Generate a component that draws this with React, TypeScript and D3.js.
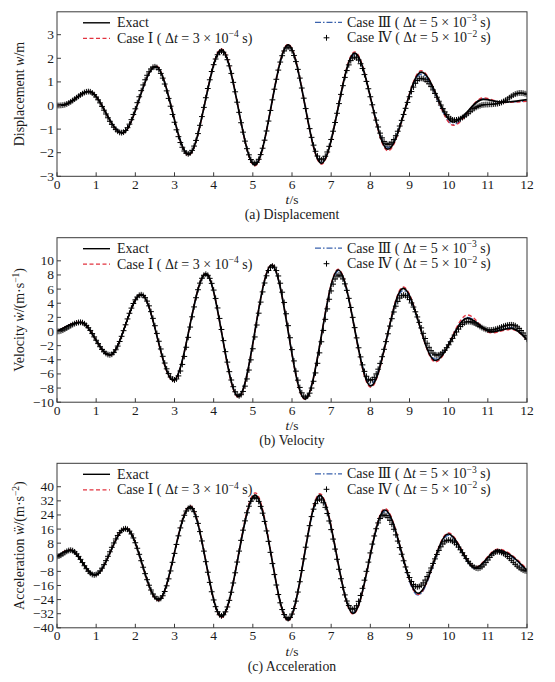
import * as d3 from 'd3'

// sampling step of the Case IV markers (s)
const case4Step = 0.05

// ---------- (a) displacement ----------
const dispKeyT = [0, 0.2, 0.4, 0.6, 0.81, 1.67, 2.52, 3.36, 4.2, 5.05, 5.9, 6.75, 7.6, 8.45, 9.3, 10.12, 10.88, 11.38, 12]
const dispExact = [0, 0.035, 0.21, 0.45, 0.6, -1.17, 1.66, -2.08, 2.36, -2.52, 2.57, -2.45, 2.22, -1.85, 1.41, -0.7, 0.26, 0.14, 0.25]
const dispCase1 = [0, 0.035, 0.21, 0.45, 0.6, -1.18, 1.68, -2.1, 2.4, -2.55, 2.6, -2.48, 2.27, -1.92, 1.47, -0.84, 0.32, 0.13, 0.18]
const dispCase3 = [0, 0.035, 0.21, 0.45, 0.6, -1.16, 1.65, -2.07, 2.34, -2.5, 2.54, -2.41, 2.16, -1.78, 1.33, -0.8, 0.28, 0.13, 0.2]
const dispCase4 = [
  0, 0, 0.005, 0.015, 0.035, 0.065, 0.105, 0.155, 0.21, 0.27, 0.33, 0.39, 0.45, 0.5, 0.55, 0.58, 0.59,
  0.58, 0.53, 0.46, 0.36, 0.24, 0.11, -0.04, -0.2, -0.36, -0.52, -0.67, -0.8, -0.92, -1.02, -1.09, -1.14, -1.15,
  -1.13, -1.06, -0.94, -0.79, -0.6, -0.38, -0.14, 0.12, 0.37, 0.63, 0.87, 1.09, 1.28, 1.43, 1.55, 1.62, 1.64,
  1.61, 1.52, 1.36, 1.16, 0.91, 0.62, 0.3, -0.03, -0.38, -0.71, -1.03, -1.32, -1.57, -1.77, -1.93, -2.02, -2.05,
  -2.01, -1.9, -1.72, -1.48, -1.19, -0.84, -0.47, -0.08, 0.33, 0.72, 1.09, 1.44, 1.73, 1.97, 2.15, 2.26, 2.3,
  2.26, 2.14, 1.94, 1.68, 1.36, 0.98, 0.58, 0.14, -0.29, -0.73, -1.13, -1.51, -1.83, -2.09, -2.29, -2.41, -2.45,
  -2.41, -2.28, -2.08, -1.81, -1.47, -1.08, -0.66, -0.21, 0.24, 0.69, 1.11, 1.5, 1.84, 2.11, 2.31, 2.44, 2.48,
  2.44, 2.32, 2.12, 1.86, 1.53, 1.16, 0.74, 0.31, -0.13, -0.56, -0.98, -1.35, -1.68, -1.94, -2.14, -2.26, -2.3,
  -2.26, -2.15, -1.97, -1.73, -1.44, -1.09, -0.72, -0.33, 0.08, 0.47, 0.84, 1.19, 1.48, 1.72, 1.9, 2.01, 2.05,
  2.02, 1.93, 1.77, 1.57, 1.31, 1.02, 0.71, 0.37, 0.03, -0.31, -0.62, -0.91, -1.17, -1.37, -1.53, -1.62, -1.65,
  -1.63, -1.56, -1.44, -1.28, -1.09, -0.87, -0.63, -0.38, -0.12, 0.13, 0.37, 0.59, 0.78, 0.94, 1.06, 1.13, 1.15,
  1.13, 1.09, 1.02, 0.92, 0.8, 0.66, 0.51, 0.35, 0.18, 0.02, -0.13, -0.27, -0.39, -0.49, -0.56, -0.61, -0.62,
  -0.61, -0.59, -0.56, -0.51, -0.46, -0.4, -0.33, -0.26, -0.19, -0.13, -0.08, -0.04, -0.01, 0.02, 0.03,
  0.04, 0.04, 0.05, 0.05, 0.06, 0.07, 0.08, 0.1,
  0.13, 0.17, 0.22, 0.27, 0.33, 0.39, 0.44, 0.48, 0.51, 0.53, 0.53, 0.52, 0.5, 0.47,
]
const dispTicks = [-3, -2, -1, 0, 1, 2, 3]

// ---------- (b) velocity ----------
const velKeyT = [0, 0.6, 1.35, 2.15, 2.97, 3.8, 4.63, 5.48, 6.33, 7.18, 8.01, 8.84, 9.66, 10.48, 11.08, 11.6, 12]
const velExact = [0, 1.3, -3.34, 5.25, -6.9, 8.15, -9.2, 9.4, -9.55, 8.7, -7.7, 6.1, -4.1, 1.9, -0.05, 0.45, -1.15]
const velCase1 = [0, 1.32, -3.36, 5.28, -6.95, 8.2, -9.3, 9.45, -9.6, 8.8, -7.9, 6.3, -4.3, 2.35, -0.2, 0.3, -1.15]
const velCase3 = [0, 1.3, -3.3, 5.2, -6.85, 8.1, -9.15, 9.3, -9.4, 8.5, -7.4, 5.8, -3.9, 2.0, 0, 0.55, -1.2]
const velCase4 = [
  0, 0.02, 0.09, 0.19, 0.33, 0.48, 0.65, 0.82, 0.98, 1.11, 1.21, 1.28, 1.3,
  1.25, 1.1, 0.86, 0.54, 0.15, -0.29, -0.76, -1.24, -1.71, -2.15, -2.54, -2.86, -3.1, -3.25, -3.3,
  -3.22, -2.98, -2.58, -2.06, -1.41, -0.68, 0.12, 0.95, 1.78, 2.58, 3.31, 3.96, 4.48, 4.88, 5.12, 5.2,
  5.1, 4.79, 4.3, 3.63, 2.81, 1.86, 0.82, -0.27, -1.38, -2.47, -3.51, -4.46, -5.28, -5.95, -6.44, -6.75, -6.85,
  -6.71, -6.28, -5.59, -4.66, -3.53, -2.23, -0.83, 0.63, 2.08, 3.48, 4.78, 5.91, 6.84, 7.53, 7.96, 8.1,
  7.95, 7.52, 6.81, 5.86, 4.68, 3.33, 1.85, 0.29, -1.29, -2.85, -4.33, -5.68, -6.86, -7.81, -8.52, -8.95, -9.1,
  -8.94, -8.48, -7.73, -6.71, -5.45, -4.01, -2.44, -0.77, 0.92, 2.59, 4.16, 5.6, 6.86, 7.88, 8.63, 9.09, 9.25,
  9.09, 8.62, 7.86, 6.83, 5.56, 4.11, 2.51, 0.83, -0.88, -2.56, -4.16, -5.61, -6.88, -7.91, -8.67, -9.14, -9.3,
  -9.15, -8.72, -8.0, -7.04, -5.86, -4.5, -3.02, -1.45, 0.15, 1.72, 3.2, 4.56, 5.74, 6.7, 7.42, 7.85, 8.0,
  7.86, 7.43, 6.74, 5.82, 4.69, 3.4, 2.0, 0.55, -0.9, -2.3, -3.59, -4.72, -5.64, -6.33, -6.76, -6.9,
  -6.8, -6.49, -6.0, -5.33, -4.51, -3.56, -2.52, -1.43, -0.32, 0.77, 1.81, 2.76, 3.58, 4.25, 4.74, 5.05, 5.15,
  5.08, 4.86, 4.51, 4.04, 3.46, 2.79, 2.06, 1.29, 0.51, -0.26, -0.99, -1.66, -2.24, -2.71, -3.06, -3.28, -3.35,
  -3.3, -3.17, -2.95, -2.65, -2.29, -1.88, -1.44, -0.98, -0.51, -0.07, 0.34, 0.7, 1.0, 1.22, 1.35, 1.4,
  1.38, 1.3, 1.19, 1.05, 0.89, 0.71, 0.55, 0.41, 0.3, 0.22, 0.2,
  0.22, 0.26, 0.33, 0.42, 0.52, 0.63, 0.73, 0.82, 0.89, 0.94, 0.95,
  0.92, 0.82, 0.65, 0.42, 0.14, -0.2, -0.6, -1.1,
]
const velTicks = [-10, -8, -6, -4, -2, 0, 2, 4, 6, 8, 10]

// ---------- (c) acceleration ----------
const accKeyT = [0, 0.33, 0.97, 1.76, 2.59, 3.4, 4.2, 5.06, 5.9, 6.71, 7.56, 8.37, 9.22, 9.99, 10.68, 11.25, 12]
const accExact = [0.5, 4.1, -10.1, 16.4, -24.3, 28.7, -33.7, 35.3, -35.6, 35.3, -31.8, 26.8, -20.5, 13.2, -6, 4.1, -7.5]
const accCase1 = [0.5, 4.2, -10.2, 16.6, -24.6, 29.2, -34.2, 36.5, -36, 36, -32.2, 27.6, -21, 13.8, -5.6, 4.6, -6.8]
const accCase3 = [0.5, 4, -10, 16.2, -24, 28.3, -33.5, 34.8, -35.3, 34.5, -31.4, 26, -21.5, 12.4, -6.4, 3.6, -8]
const accCase4 = [
  0.5, 0.67, 1.16, 1.86, 2.64, 3.34, 3.83, 4.0,
  3.76, 3.06, 1.95, 0.5, -1.19, -3.0, -4.81, -6.5, -7.95, -9.06, -9.76, -10.0,
  -9.75, -9.0, -7.79, -6.16, -4.18, -1.91, 0.55, 3.1, 5.65, 8.11, 10.38, 12.36, 13.99, 15.2, 15.95, 16.2,
  15.86, 14.85, 13.2, 10.98, 8.25, 5.11, 1.68, -1.95, -5.65, -9.28, -12.71, -15.85, -18.58, -20.8, -22.45, -23.46, -23.8,
  -23.3, -21.82, -19.42, -16.19, -12.25, -7.75, -2.87, 2.2, 7.27, 12.15, 16.65, 20.59, 23.82, 26.22, 27.7, 28.2,
  27.61, 25.86, 23.02, 19.21, 14.56, 9.25, 3.49, -2.5, -8.49, -14.25, -19.56, -24.21, -28.02, -30.86, -32.61, -33.2,
  -32.63, -30.94, -28.17, -24.43, -19.85, -14.57, -8.8, -2.7, 3.5, 9.6, 15.37, 20.65, 25.23, 28.97, 31.74, 33.43, 34.0,
  33.42, 31.68, 28.85, 25.02, 20.33, 14.93, 9.02, 2.78, -3.58, -9.82, -15.73, -21.13, -25.82, -29.65, -32.48, -34.22, -34.8,
  -34.15, -32.22, -29.08, -24.87, -19.73, -13.87, -7.51, -0.9, 5.71, 12.07, 17.93, 23.07, 27.28, 30.42, 32.35, 33.0,
  32.47, 30.89, 28.32, 24.84, 20.58, 15.68, 10.31, 4.64, -1.14, -6.81, -12.18, -17.08, -21.34, -24.82, -27.39, -28.97, -29.5,
  -28.99, -27.46, -24.99, -21.67, -17.61, -12.98, -7.97, -2.75, 2.47, 7.48, 12.11, 16.17, 19.49, 21.96, 23.49, 24.0,
  23.65, 22.63, 20.94, 18.68, 15.89, 12.69, 9.19, 5.49, 1.72, -1.99, -5.49, -8.69, -11.48, -13.74, -15.43, -16.45, -16.8,
  -16.54, -15.79, -14.56, -12.91, -10.89, -8.59, -6.09, -3.5, -0.91, 1.59, 3.89, 5.91, 7.56, 8.79, 9.54, 9.8,
  9.62, 9.1, 8.26, 7.14, 5.78, 4.24, 2.59, 0.91, -0.74, -2.28, -3.64, -4.76, -5.6, -6.12, -6.3,
  -6.07, -5.39, -4.34, -3.02, -1.55, -0.08, 1.24, 2.29, 2.97, 3.2,
  3.08, 2.72, 2.15, 1.38, 0.45, -0.6, -1.72, -2.88, -4.0, -5.05, -5.98, -6.75, -7.32, -7.68, -7.8,
]
const accTicks = [-40, -32, -24, -16, -8, 0, 8, 16, 24, 32, 40]

const timeTicks = d3.range(0, 13)

const W = 555
const H = 682
const left = 57
const right = 527
const plotH = 164.5
const font = '"Liberation Serif", "DejaVu Serif", serif'
const red = '#e2333f'
const blue = '#3a62ad'
const ink = '#1a1a1a'

const fmt = (v: number) => (v < 0 ? '\u2212' + Math.abs(v) : String(v))

interface PanelProps {
  top: number
  yDomain: [number, number]
  yTicks: number[]
  keyT: number[]
  exact: number[]
  case1: number[]
  case3: number[]
  case4: number[]
  yLabel: React.ReactNode
  caption: string
  id: string
}

function Panel({ top, yDomain, yTicks, keyT, exact, case1, case3, case4, yLabel, caption, id }: PanelProps) {
  const bottom = top + plotH
  const x = d3.scaleLinear().domain([0, 12]).range([left, right])
  const y = d3.scaleLinear().domain(yDomain).range([bottom, top])

  const line = d3
    .line<number>()
    .x((_, i) => x(keyT[i]))
    .y((d) => y(d))
    .curve(d3.curveMonotoneX)

  // Case IV drawn as "+" markers
  const plus = case4
    .map((v, i) => {
      const px = x(i * case4Step)
      const py = y(v)
      return `M${px - 2.9},${py}h5.8M${px},${py - 2.9}v5.8`
    })
    .join('')

  const midY = (top + bottom) / 2

  return (
    <g>
      <clipPath id={id}>
        <rect x={left} y={top} width={right - left} height={plotH} />
      </clipPath>
      <g clipPath={`url(#${id})`}>
        <path d={line(case3) || ''} fill="none" stroke={blue} strokeWidth={1.3} strokeDasharray="6,2,1.5,2" />
        <path d={line(case1) || ''} fill="none" stroke={red} strokeWidth={1.4} strokeDasharray="4,2.5" />
        <path d={line(exact) || ''} fill="none" stroke="#000" strokeWidth={1.7} />
        <path d={plus} fill="none" stroke="#000" strokeWidth={1} />
      </g>

      {/* frame */}
      <rect x={left} y={top} width={right - left} height={plotH} fill="none" stroke="#3a3a3a" strokeWidth={1} />

      {/* x ticks */}
      {timeTicks.map((t) => (
        <g key={'x' + t}>
          <line x1={x(t)} x2={x(t)} y1={bottom} y2={bottom - 4} stroke="#3a3a3a" strokeWidth={1} />
          <text x={x(t)} y={bottom + 12.5} textAnchor="middle" fontSize={13.5} fontFamily={font} fill={ink}>
            {t}
          </text>
        </g>
      ))}
      <text x={(left + right) / 2} y={bottom + 28} textAnchor="middle" fontSize={13.5} fontFamily={font} fill={ink}>
        <tspan fontStyle="italic">t</tspan>/s
      </text>
      <text x={(left + right) / 2} y={bottom + 43} textAnchor="middle" fontSize={13.8} fontFamily={font} fill={ink}>
        {caption}
      </text>

      {/* y ticks */}
      {yTicks.map((v) => (
        <g key={'y' + v}>
          <line x1={left} x2={left + 4} y1={y(v)} y2={y(v)} stroke="#3a3a3a" strokeWidth={1} />
          <text x={left - 3} y={y(v) + 4.5} textAnchor="end" fontSize={13.5} fontFamily={font} fill={ink}>
            {fmt(v)}
          </text>
        </g>
      ))}
      <text
        transform={`translate(24,${midY}) rotate(-90)`}
        textAnchor="middle"
        fontSize={14}
        fontFamily={font}
        fill={ink}
      >
        {yLabel}
      </text>

      {/* legend */}
      <g fontFamily={font} fontSize={14} fill={ink}>
        <line x1={83} x2={110} y1={top + 11} y2={top + 11} stroke="#000" strokeWidth={1.4} />
        <text x={117} y={top + 15.5}>Exact</text>
        <line x1={83} x2={110} y1={top + 26.5} y2={top + 26.5} stroke={red} strokeWidth={1.3} strokeDasharray="4,2.5" />
        <text x={117} y={top + 31}>
          Case Ⅰ ( Δ<tspan fontStyle="italic">t</tspan> = 3 × 10
          <tspan dy={-5.5} fontSize={9.5}>−4</tspan>
          <tspan dy={5.5}> s)</tspan>
        </text>
        <line x1={315} x2={342} y1={top + 10.5} y2={top + 10.5} stroke={blue} strokeWidth={1.3} strokeDasharray="6,2,1.5,2" />
        <text x={347} y={top + 15}>
          Case Ⅲ ( Δ<tspan fontStyle="italic">t</tspan> = 5 × 10
          <tspan dy={-5.5} fontSize={9.5}>−3</tspan>
          <tspan dy={5.5}> s)</tspan>
        </text>
        <path
          d={`M${326.5 - 2.9},${top + 26}h5.8M326.5,${top + 26 - 2.9}v5.8`}
          stroke="#000"
          strokeWidth={1}
          fill="none"
        />
        <text x={347} y={top + 30.5}>
          Case Ⅳ ( Δ<tspan fontStyle="italic">t</tspan> = 5 × 10
          <tspan dy={-5.5} fontSize={9.5}>−2</tspan>
          <tspan dy={5.5}> s)</tspan>
        </text>
      </g>
    </g>
  )
}

export default function App() {
  return (
    <div style={{ position: 'absolute', left: 0, top: 0, width: W, height: H, background: '#fff' }}>
      <svg width={W} height={H} viewBox={`0 0 ${W} ${H}`} style={{ display: 'block' }}>
        <rect width={W} height={H} fill="#fff" />
        <Panel
          id="clipA"
          top={11.8}
          yDomain={[-3, 3.97]}
          yTicks={dispTicks}
          keyT={dispKeyT}
          exact={dispExact}
          case1={dispCase1}
          case3={dispCase3}
          case4={dispCase4}
          caption="(a) Displacement"
          yLabel={
            <>
              Displacement <tspan fontStyle="italic">w</tspan>/m
            </>
          }
        />
        <Panel
          id="clipB"
          top={237.7}
          yDomain={[-10, 13.27]}
          yTicks={velTicks}
          keyT={velKeyT}
          exact={velExact}
          case1={velCase1}
          case3={velCase3}
          case4={velCase4}
          caption="(b) Velocity"
          yLabel={
            <>
              Velocity <tspan fontStyle="italic">ẇ</tspan>/(m·s<tspan dy={-5} fontSize={9.5}>−1</tspan>
              <tspan dy={5}>)</tspan>
            </>
          }
        />
        <Panel
          id="clipC"
          top={463.3}
          yDomain={[-40, 53.3]}
          yTicks={accTicks}
          keyT={accKeyT}
          exact={accExact}
          case1={accCase1}
          case3={accCase3}
          case4={accCase4}
          caption="(c) Acceleration"
          yLabel={
            <>
              Acceleration <tspan fontStyle="italic">ẅ</tspan>/(m·s<tspan dy={-5} fontSize={9.5}>−2</tspan>
              <tspan dy={5}>)</tspan>
            </>
          }
        />
      </svg>
    </div>
  )
}
